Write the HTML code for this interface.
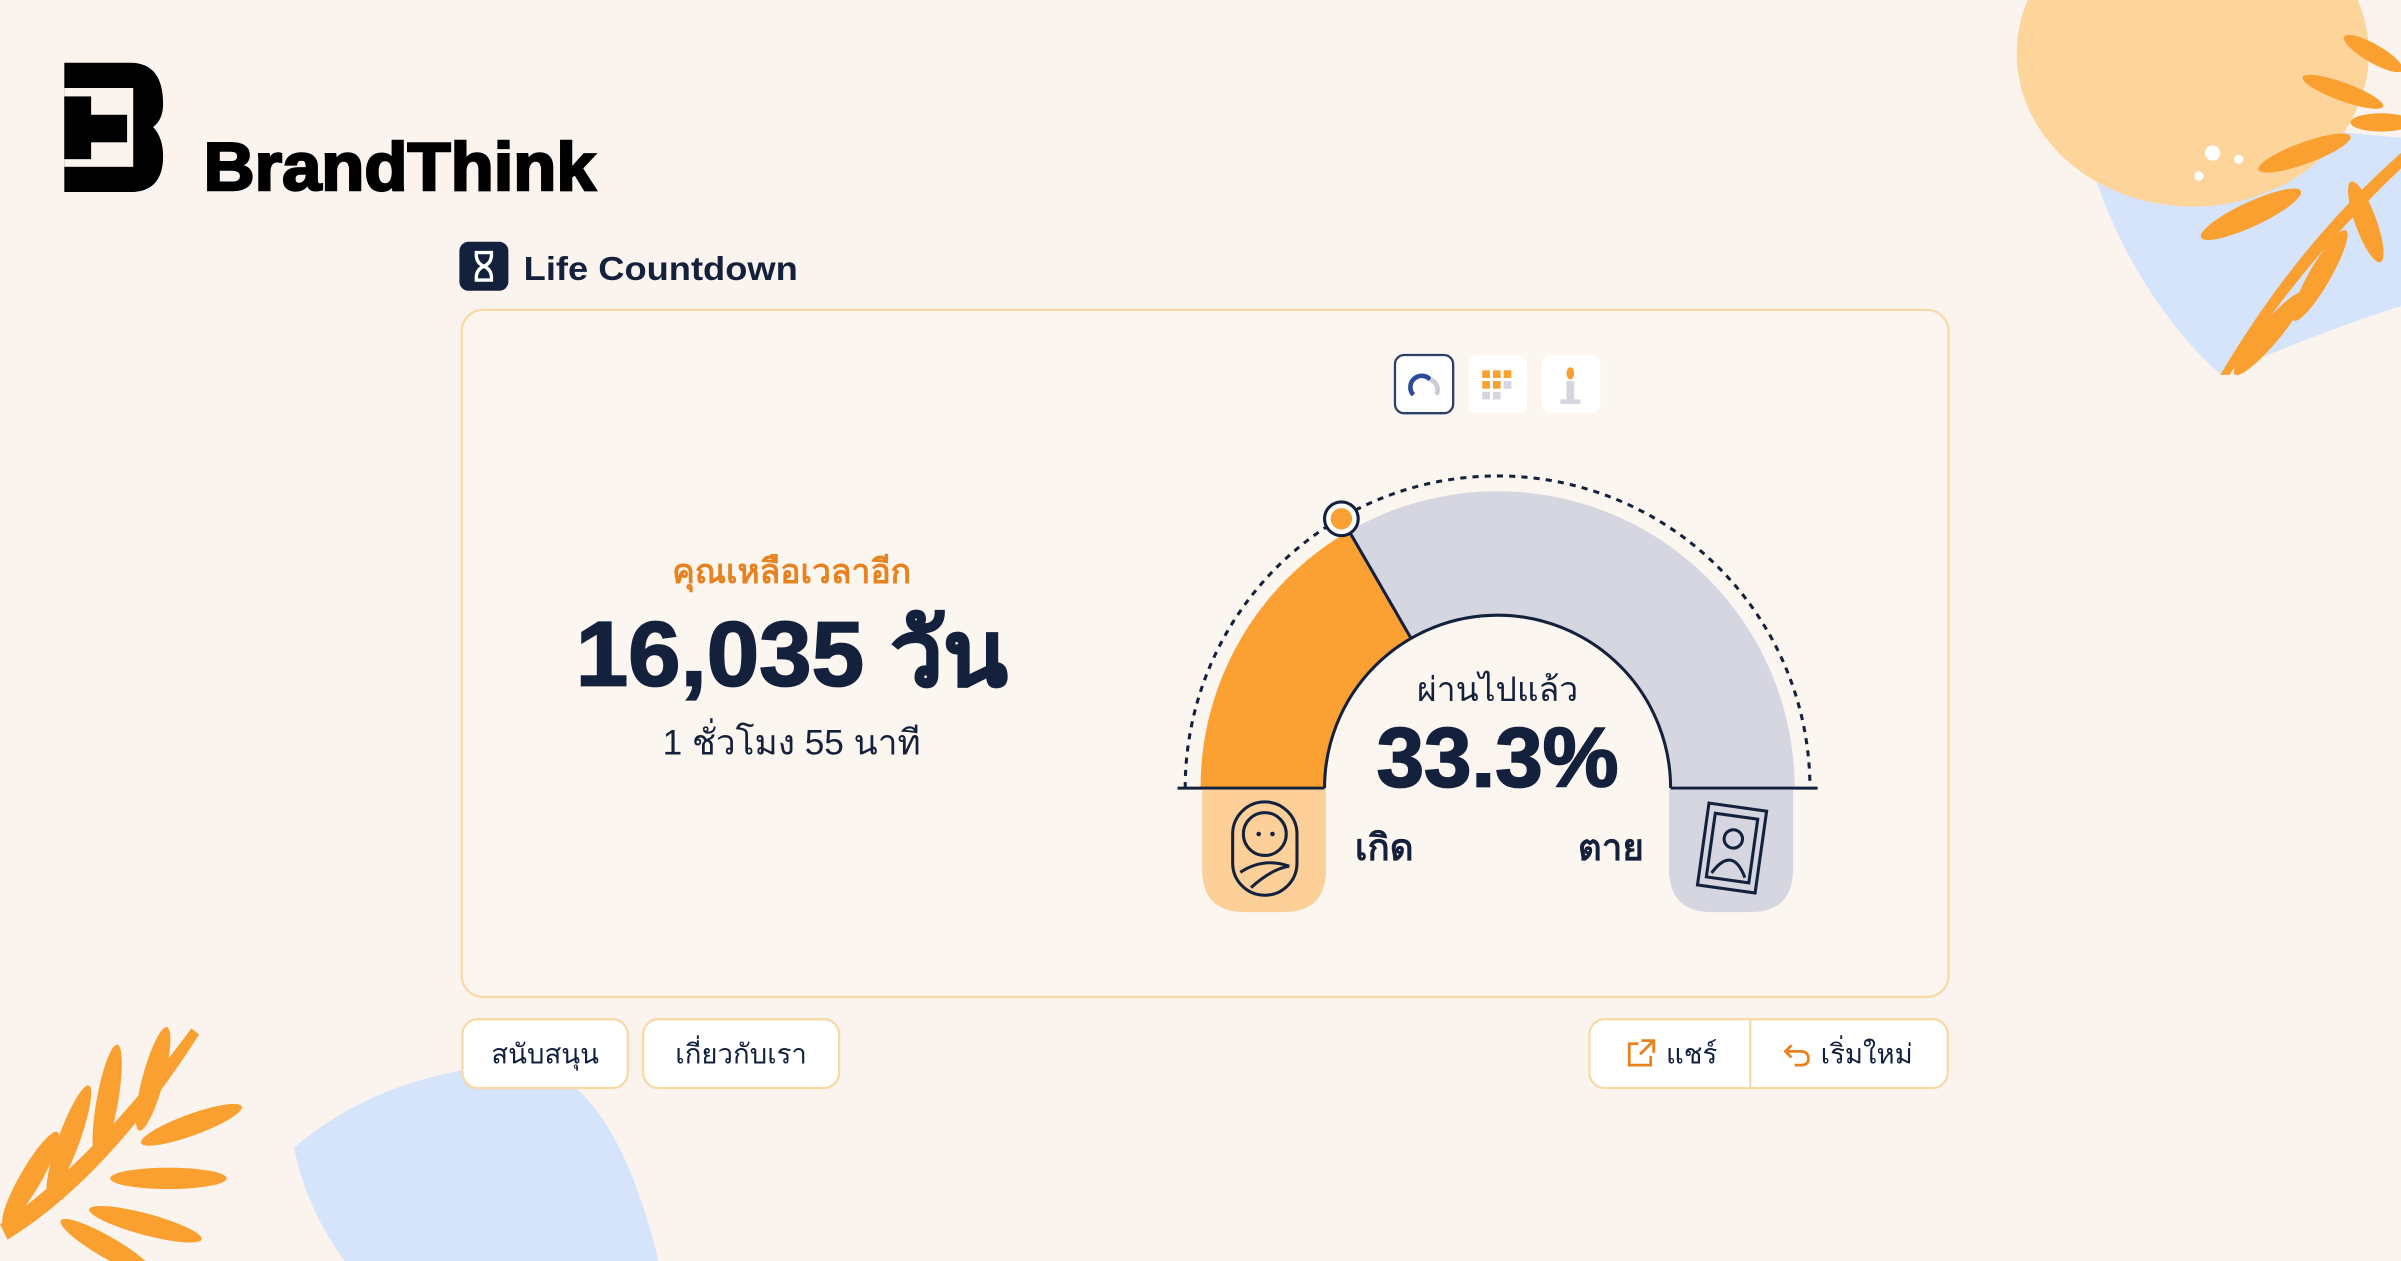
<!DOCTYPE html>
<html><head><meta charset="utf-8"><style>
html,body{margin:0;padding:0;background:#fbf4ee;}
svg{display:block;}
text{font-family:"Liberation Sans","Noto Sans CJK SC",sans-serif;}
</style></head><body>
<svg width="2401" height="1261" viewBox="0 0 1568 824" preserveAspectRatio="none" xmlns="http://www.w3.org/2000/svg">
<rect width="1568" height="824" fill="#fbf4ee"/>
<!-- top right decor -->
<path d="M1355 70 Q1380 180 1450 245 Q1520 215 1568 200 L1568 90 Z" fill="#d6e4fb"/>
<ellipse cx="1432" cy="35" rx="115" ry="100" fill="#fdd49a"/>
<circle cx="1445" cy="100" r="5" fill="#fff"/><circle cx="1462" cy="104" r="3" fill="#fff"/><circle cx="1436" cy="115" r="3" fill="#fff"/>
<g fill="#f9a030">
<path d="M1450 245 Q1500 160 1568 100 L1568 110 Q1505 170 1456 245 Z"/>
<ellipse cx="1482" cy="218" rx="35" ry="7" transform="rotate(-50 1482 218)"/>
<ellipse cx="1470" cy="140" rx="36" ry="8" transform="rotate(-25 1470 140)"/>
<ellipse cx="1515" cy="180" rx="34" ry="7" transform="rotate(-60 1515 180)"/>
<ellipse cx="1505" cy="100" rx="32" ry="7" transform="rotate(-20 1505 100)"/>
<ellipse cx="1545" cy="145" rx="28" ry="7" transform="rotate(70 1545 145)"/>
<ellipse cx="1530" cy="60" rx="28" ry="6" transform="rotate(20 1530 60)"/>
<ellipse cx="1550" cy="35" rx="22" ry="6" transform="rotate(30 1550 35)"/>
<ellipse cx="1555" cy="80" rx="20" ry="6" transform="rotate(0 1555 80)"/>
</g>
<!-- bottom left decor -->
<path d="M192 750 Q250 700 340 695 Q400 700 430 824 L225 824 Q200 790 192 750 Z" fill="#d6e4fb"/>
<g fill="#f9a030">
<path d="M0 800 Q60 760 125 672 L130 676 Q70 770 5 810 Z"/>
<ellipse cx="100" cy="705" rx="35" ry="7" transform="rotate(-75 100 705)"/>
<ellipse cx="125" cy="735" rx="35" ry="7" transform="rotate(-20 125 735)"/>
<ellipse cx="70" cy="720" rx="38" ry="7" transform="rotate(-80 70 720)"/>
<ellipse cx="110" cy="770" rx="38" ry="7" transform="rotate(0 110 770)"/>
<ellipse cx="45" cy="745" rx="38" ry="7" transform="rotate(-70 45 745)"/>
<ellipse cx="95" cy="800" rx="38" ry="7" transform="rotate(15 95 800)"/>
<ellipse cx="20" cy="770" rx="35" ry="7" transform="rotate(-60 20 770)"/>
<ellipse cx="70" cy="815" rx="35" ry="7" transform="rotate(30 70 815)"/>
</g>
<!-- logo -->
<path d="M42 41 H85 Q106.5 41 106.5 68 Q106.5 78 100 83 Q106.5 90 106.5 102 Q106.5 125.5 85 125.5 H42 Z" fill="#000"/>
<rect x="42" y="57.5" width="45" height="51.5" fill="#fbf4ee"/>
<rect x="42" y="63" width="17.5" height="41" fill="#000"/>
<rect x="59" y="75" width="24" height="18" fill="#000"/>
<text x="133" y="124" font-size="44" font-weight="900" fill="#000" stroke="#000" stroke-width="1.6" textLength="256" lengthAdjust="spacingAndGlyphs">BrandThink</text>
<!-- title -->
<rect x="300" y="158" width="32" height="32" rx="6" fill="#14213d"/>
<path d="M310 165 H322 M310 183 H322 M311 166 Q311 172 316 174 Q321 172 321 166 M311 182 Q311 176 316 174 Q321 176 321 182" stroke="#fff" stroke-width="2.2" fill="none"/>
<text x="342" y="183" font-size="22" font-weight="bold" fill="#14213d" textLength="179" lengthAdjust="spacingAndGlyphs">Life Countdown</text>
<!-- card -->
<rect x="301.5" y="202.5" width="971" height="449" rx="14" fill="#fcf6f0" stroke="#f8d9a8" stroke-width="1.5"/>
<text x="517" y="381" font-size="22" fill="#e8821e" text-anchor="middle" font-weight="bold">คุณเหลือเวลาอีก</text>
<text x="517" y="448" font-size="60" font-weight="bold" fill="#14213d" stroke="#14213d" stroke-width="1.2" text-anchor="middle" textLength="282" lengthAdjust="spacingAndGlyphs">16,035 วัน</text>
<text x="517" y="493" font-size="23" fill="#14213d" text-anchor="middle">1 ชั่วโมง 55 นาที</text>
<!-- toggle buttons -->
<rect x="911" y="232" width="38" height="38" rx="6" fill="#fff" stroke="#2c3e6b" stroke-width="1.5"/>
<path d="M923 258 A7 7 0 0 1 934 248" stroke="#2b4a9a" stroke-width="3" fill="none"/>
<path d="M934 248 A7 7 0 0 1 938 258" stroke="#c9cbd6" stroke-width="3" fill="none"/>
<rect x="959" y="232" width="38" height="38" rx="6" fill="#fff"/>
<g fill="#f9a030"><rect x="968" y="242" width="5" height="5"/><rect x="975" y="242" width="5" height="5"/><rect x="982" y="242" width="5" height="5"/><rect x="968" y="249" width="5" height="5"/><rect x="975" y="249" width="5" height="5"/></g>
<g fill="#d5d6e0"><rect x="982" y="249" width="5" height="5"/><rect x="968" y="256" width="5" height="5"/><rect x="975" y="256" width="5" height="5"/></g>
<rect x="1007" y="232" width="38" height="38" rx="6" fill="#fff"/>
<rect x="1023" y="249" width="5" height="12" fill="#d5d6e0"/><rect x="1019" y="261" width="13" height="3" fill="#d5d6e0"/>
<ellipse cx="1025.5" cy="244" rx="2.5" ry="4" fill="#f9a030"/>
<!-- gauge -->
<path d="M784 515 A194 194 0 0 1 881 347 L921.5 417.1 A113 113 0 0 0 865 515 Z" fill="#fba033"/>
<path d="M881 347 A194 194 0 0 1 1172 515 L1091 515 A113 113 0 0 0 921.5 417.1 Z" fill="#d5d6e0"/>
<path d="M774 515 A204 204 0 0 1 1182 515" stroke="#14213d" stroke-width="2" stroke-dasharray="4 4" fill="none"/>
<path d="M865 515 A113 113 0 0 1 1091 515" stroke="#14213d" stroke-width="2" fill="none"/>
<line x1="881" y1="347" x2="921.5" y2="417.1" stroke="#14213d" stroke-width="2"/>
<line x1="769" y1="515" x2="865" y2="515" stroke="#14213d" stroke-width="2"/>
<line x1="1091" y1="515" x2="1187" y2="515" stroke="#14213d" stroke-width="2"/>
<circle cx="876" cy="339" r="11" fill="#fff" stroke="#14213d" stroke-width="2"/>
<circle cx="876" cy="339" r="7" fill="#fba033"/>
<!-- legs -->
<path d="M785 516 H866 V568 Q866 596 838 596 H813 Q785 596 785 568 Z" fill="#fdd09a"/>
<path d="M1090 516 H1171 V568 Q1171 596 1143 596 H1118 Q1090 596 1090 568 Z" fill="#d5d6e0"/>
<!-- baby -->
<g stroke="#14213d" stroke-width="2" fill="none">
<rect x="805" y="524" width="42" height="61" rx="21"/>
<circle cx="826" cy="545" r="14"/>
<path d="M810 570 Q825 560 842 566 M817 580 Q830 568 842 566"/>
</g>
<circle cx="822" cy="545" r="1.5" fill="#14213d"/><circle cx="831" cy="545" r="1.5" fill="#14213d"/>
<!-- frame -->
<g stroke="#14213d" stroke-width="2" fill="none" transform="rotate(8 1130 555)">
<rect x="1112" y="527" width="38" height="54"/>
<rect x="1117" y="533" width="28" height="42"/>
<circle cx="1131" cy="548" r="6"/>
<path d="M1120 572 Q1131 552 1142 572"/>
</g>
<text x="904" y="562" font-size="24" font-weight="bold" fill="#14213d" text-anchor="middle">เกิด</text>
<text x="1052" y="562" font-size="24" font-weight="bold" fill="#14213d" text-anchor="middle">ตาย</text>
<text x="978" y="458" font-size="22" fill="#14213d" text-anchor="middle">ผ่านไปแล้ว</text>
<text x="978" y="514" font-size="55" font-weight="bold" fill="#14213d" stroke="#14213d" stroke-width="1.2" text-anchor="middle" textLength="158" lengthAdjust="spacingAndGlyphs">33.3%</text>
<!-- bottom buttons -->
<rect x="302" y="666" width="108" height="45" rx="10" fill="#fff" stroke="#f8d9a8" stroke-width="1.5"/>
<text x="356" y="695" font-size="18" fill="#14213d" text-anchor="middle">สนับสนุน</text>
<rect x="420" y="666" width="128" height="45" rx="10" fill="#fff" stroke="#f8d9a8" stroke-width="1.5"/>
<text x="484" y="695" font-size="18" fill="#14213d" text-anchor="middle">เกี่ยวกับเรา</text>
<rect x="1038" y="666" width="234" height="45" rx="10" fill="#fff" stroke="#f8d9a8" stroke-width="1.5"/>
<line x1="1143" y1="666" x2="1143" y2="711" stroke="#f8d9a8" stroke-width="1.5"/>
<g stroke="#e8821e" stroke-width="1.8" fill="none">
<path d="M1070 682 H1064 V696 H1078 V690 M1072 680 H1080 V688 M1080 680 L1071 689"/>
<path d="M1170 683 L1166 687 L1170 691 M1166 687 H1176 Q1181 687 1181 692 Q1181 696 1176 696 H1172"/>
</g>
<text x="1088" y="695" font-size="18" fill="#14213d">แชร์</text>
<text x="1189" y="695" font-size="18" fill="#14213d">เริ่มใหม่</text>
</svg>
</body></html>
